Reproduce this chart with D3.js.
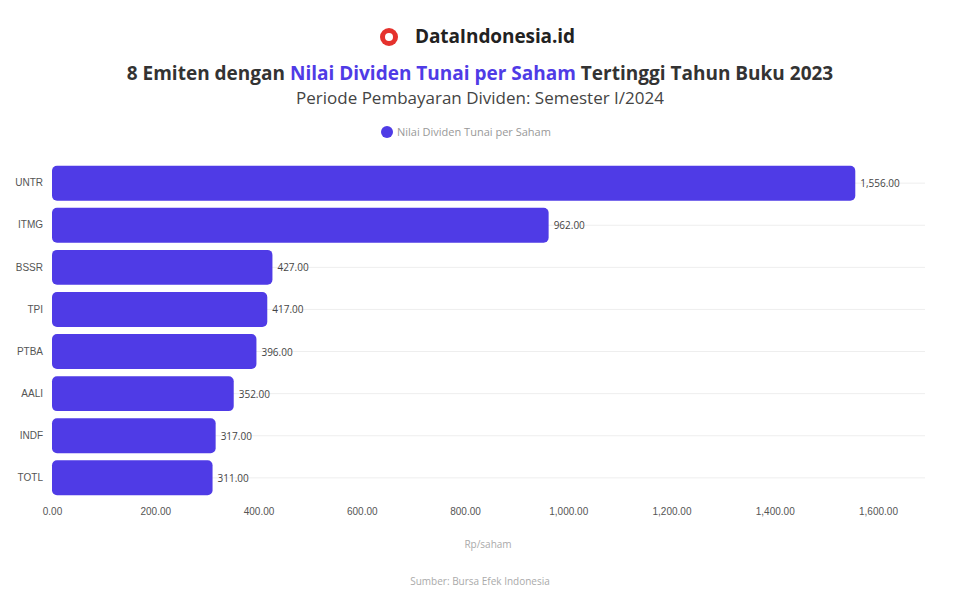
<!DOCTYPE html>
<html><head><meta charset="utf-8">
<script src="https://cdn.jsdelivr.net/npm/d3@7"></script>
<style>body{margin:0;background:#fff;font-family:"Source Sans Pro","Open Sans","Noto Sans",sans-serif}</style>
</head><body><svg id="c" width="960" height="600"></svg>
<script>
const categories = ["UNTR","ITMG","BSSR","TPI","PTBA","AALI","INDF","TOTL"];
const values = [1556,962,427,417,396,352,317,311];
const xTicks = [0,200,400,600,800,1000,1200,1400,1600];

const svg = d3.select("#c");
const fmt = d3.format(",.2f");
const x = d3.scaleLinear().domain([0,1600]).range([52,878]);
const y = d3.scaleBand().domain(categories).range([164,497]).paddingInner(0.17).paddingOuter(0.04);
const purple = "#4f3be6";

const lg = svg.append("g");
lg.append("circle").attr("cx",389).attr("cy",37).attr("r",9).attr("fill","#e5322d");
lg.append("circle").attr("cx",389).attr("cy",37).attr("r",4).attr("fill","#fff");
svg.append("text").attr("x",415).attr("y",43).attr("font-size",19).attr("font-weight",700).attr("fill","#222").attr("textLength",160).text("DataIndonesia.id");
const t = svg.append("text").attr("x",480).attr("y",80).attr("text-anchor","middle").attr("font-size",19).attr("font-weight",700).attr("fill","#333");
t.append("tspan").text("8 Emiten dengan ");
t.append("tspan").attr("fill",purple).text("Nilai Dividen Tunai per Saham");
t.append("tspan").text(" Tertinggi Tahun Buku 2023");
svg.append("text").attr("x",480).attr("y",104).attr("text-anchor","middle").attr("font-size",17).attr("fill","#444").text("Periode Pembayaran Dividen: Semester I/2024");
svg.append("circle").attr("cx",387).attr("cy",132).attr("r",6).attr("fill",purple);
svg.append("text").attr("x",397).attr("y",136).attr("font-size",11).attr("fill","#999").text("Nilai Dividen Tunai per Saham");

svg.append("g").selectAll("line").data(categories).join("line")
 .attr("x1",52).attr("x2",925).attr("y1",d=>y(d)+y.bandwidth()/2).attr("y2",d=>y(d)+y.bandwidth()/2)
 .attr("stroke","#eee");

svg.append("g").selectAll("rect").data(values).join("rect")
 .attr("x",x(0)).attr("y",(d,i)=>y(categories[i])).attr("height",y.bandwidth())
 .attr("width",d=>x(d)-x(0)).attr("rx",5).attr("fill",purple);
svg.append("g").selectAll("text").data(values).join("text")
 .attr("x",d=>x(d)+5).attr("y",(d,i)=>y(categories[i])+y.bandwidth()/2+4)
 .attr("font-size",10).attr("fill","#444").text(d=>fmt(d));

const ya = svg.append("g").attr("transform","translate(46,0)").call(d3.axisLeft(y).tickSize(0));
ya.select(".domain").remove();
ya.selectAll("text").attr("font-size",10).attr("fill","#555");
const xa = svg.append("g").attr("transform","translate(0,503)").call(d3.axisBottom(x).tickValues(xTicks).tickFormat(fmt).tickSize(0));
xa.select(".domain").remove();
xa.selectAll("text").attr("font-size",10).attr("fill","#555").attr("dy","0.9em");
svg.append("text").attr("x",488).attr("y",548).attr("text-anchor","middle").attr("font-size",10).attr("fill","#aaa").text("Rp/saham");
svg.append("text").attr("x",480).attr("y",585).attr("text-anchor","middle").attr("font-size",10).attr("fill","#aaa").text("Sumber: Bursa Efek Indonesia");
</script></body></html>
